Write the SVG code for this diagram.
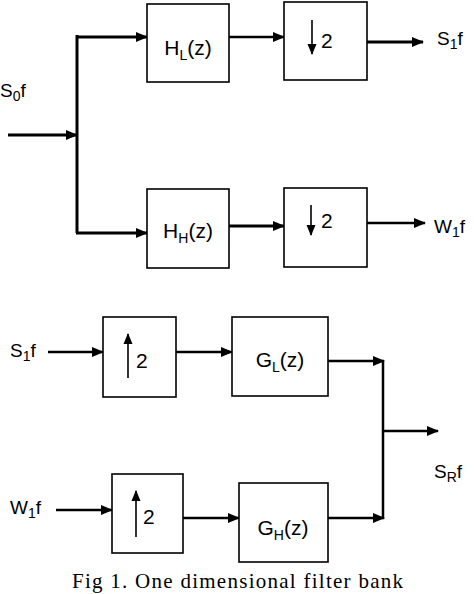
<svg xmlns="http://www.w3.org/2000/svg" width="474" height="594" viewBox="0 0 474 594">
<defs>
<marker id="ah" markerUnits="userSpaceOnUse" markerWidth="12" markerHeight="10" refX="11" refY="5" orient="auto">
<path d="M0,0 L12,5 L0,10 Z" fill="#000"/>
</marker>
<marker id="ahs" markerUnits="userSpaceOnUse" markerWidth="11" markerHeight="10" refX="10" refY="5" orient="auto">
<path d="M0,0.5 L11,5 L0,9.5 Z" fill="#000"/>
</marker>
<style>
.box{fill:#fff;stroke:#000;stroke-width:1.6}
.t{font-family:"Liberation Sans",Arial,sans-serif;font-size:21px;fill:#000}
.lab{font-family:"Liberation Sans",Arial,sans-serif;font-size:19px;fill:#000}
.sub{font-size:14px}
.c{stroke:#000;stroke-width:2.5;fill:none}
.thick{stroke-width:3}
.a{marker-end:url(#ah)}
.ia{stroke:#000;stroke-width:1.6;fill:none;marker-end:url(#ahs)}
.cap{font-family:"Liberation Serif","Times New Roman",serif;font-size:21px;fill:#000}
</style>
</defs>
<rect width="474" height="594" fill="#fff"/>
<g id="connectors">
<line class="c thick a" x1="8" y1="135" x2="77" y2="135"/>
<polyline class="c thick" points="77,35 77,233"/>
<line class="c thick a" x1="76" y1="37" x2="147" y2="37"/>
<line class="c thick a" x1="76" y1="233" x2="147" y2="233"/>
<line class="c a" x1="229" y1="37" x2="284" y2="37"/>
<line class="c thick a" x1="229" y1="226" x2="284" y2="226"/>
<line class="c thick a" x1="367" y1="42" x2="423" y2="42"/>
<line class="c a" x1="367" y1="223" x2="425" y2="223"/>
<line class="c a" x1="48" y1="352" x2="103" y2="352"/>
<line class="c a" x1="176" y1="352" x2="232" y2="352"/>
<line class="c a" x1="56" y1="510" x2="112" y2="510"/>
<line class="c a" x1="183" y1="518" x2="239" y2="518"/>
<line class="c a" x1="328" y1="361" x2="384" y2="361"/>
<line class="c a" x1="328" y1="518" x2="384" y2="518"/>
<line class="c" x1="383" y1="360" x2="383" y2="519"/>
<line class="c a" x1="383" y1="431" x2="438" y2="431"/>
</g>
<g id="HL">
<rect class="box" x="147" y="4" width="82" height="78"/>
<text class="t" x="188" y="55" text-anchor="middle">H<tspan class="sub" dy="5">L</tspan><tspan dy="-5">(z)</tspan></text>
</g>
<g id="HH">
<rect class="box" x="147" y="189" width="82" height="79"/>
<text class="t" x="188" y="238" text-anchor="middle">H<tspan class="sub" dy="5">H</tspan><tspan dy="-5">(z)</tspan></text>
</g>
<g id="down1">
<rect class="box" x="284" y="2" width="83" height="78"/>
<line class="ia" x1="312" y1="20" x2="312" y2="54"/>
<text class="t" x="321" y="48">2</text>
</g>
<g id="down2">
<rect class="box" x="284" y="188" width="83" height="79"/>
<line class="ia" x1="311" y1="205" x2="311" y2="235"/>
<text class="t" x="321" y="228">2</text>
</g>
<g id="up1">
<rect class="box" x="103" y="317" width="73" height="80"/>
<line class="ia" x1="128" y1="378" x2="128" y2="334"/>
<text class="t" x="136" y="368">2</text>
</g>
<g id="up2">
<rect class="box" x="112" y="474" width="71" height="79"/>
<line class="ia" x1="136" y1="537" x2="136" y2="491"/>
<text class="t" x="143" y="524">2</text>
</g>
<g id="GL">
<rect class="box" x="232" y="317" width="96" height="79"/>
<text class="t" x="280" y="367" text-anchor="middle">G<tspan class="sub" dy="5">L</tspan><tspan dy="-5">(z)</tspan></text>
</g>
<g id="GH">
<rect class="box" x="239" y="483" width="89" height="79"/>
<text class="t" x="283" y="535" text-anchor="middle">G<tspan class="sub" dy="5">H</tspan><tspan dy="-5">(z)</tspan></text>
</g>
<g id="labels">
<text class="lab" x="0" y="97">S<tspan class="sub" dy="4">0</tspan><tspan dy="-4">f</tspan></text>
<text class="lab" x="437" y="45">S<tspan class="sub" dy="4">1</tspan><tspan dy="-4">f</tspan></text>
<text class="lab" x="434" y="233">W<tspan class="sub" dy="4">1</tspan><tspan dy="-4">f</tspan></text>
<text class="lab" x="10" y="357">S<tspan class="sub" dy="4">1</tspan><tspan dy="-4">f</tspan></text>
<text class="lab" x="10" y="514">W<tspan class="sub" dy="4">1</tspan><tspan dy="-4">f</tspan></text>
<text class="lab" x="434" y="478">S<tspan class="sub" dy="4">R</tspan><tspan dy="-4">f</tspan></text>
</g>
<text class="cap" x="72" y="588" textLength="331">Fig 1. One dimensional filter bank</text>
</svg>
